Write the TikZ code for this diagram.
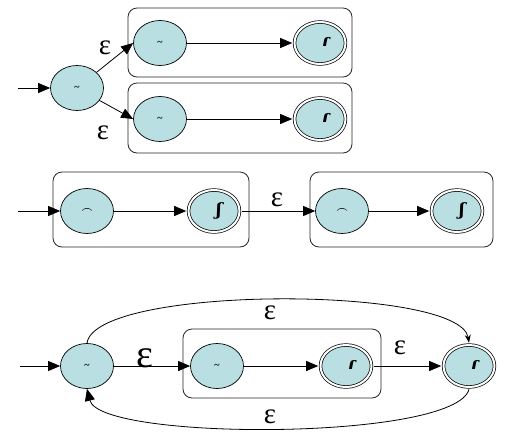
\documentclass[tikz,border=0pt]{standalone}
\usepackage{fontspec}
\setmainfont{Liberation Serif}
\newfontfamily\ipafont{DejaVu Serif}
\usetikzlibrary{arrows.meta,shapes.geometric}
\definecolor{statefill}{RGB}{185,223,227}
\newcommand{\startsym}{{\fontsize{10}{10}\selectfont\bfseries\textasciitilde}}
\newcommand{\capsym}{{\fontsize{10}{10}\selectfont$\boldsymbol{\frown}$}}
\newcommand{\acceptsym}{\hspace*{12pt}\raisebox{3pt}{\ipafont\bfseries\itshape\fontsize{17}{17}\selectfont ɾ}}
\newcommand{\hooksym}{\hspace*{10pt}\raisebox{3pt}{\ipafont\bfseries\itshape\fontsize{17}{17}\selectfont ʃ}}
\usepackage{amsmath}

\begin{document}
\begin{tikzpicture}[x=1pt, y=-1pt,
    stnode/.style={ellipse, draw, fill=statefill, line width=0.7pt, minimum width=53pt, minimum height=45pt, inner sep=0pt},
    acnode/.style={stnode, double, double distance=2pt, minimum width=51pt, minimum height=42pt, outer sep=2.3pt},
    arr/.style={-{Triangle[length=12pt,width=10pt]}, line width=0.8pt},
    loopar/.style={-{Stealth[length=8pt,width=6pt]}, line width=0.8pt},
    grp/.style={draw=black!85, rounded corners=9pt, line width=0.8pt},
    eps/.style={font=\fontsize{29}{29}\selectfont, inner sep=0pt}
]
\useasboundingbox (0,0) rectangle (512,437);

% union
\draw[grp] (128,8) rectangle (352,77);
\draw[grp] (128,83) rectangle (352,153);
\node[stnode] (u0) at (77,88) {\startsym};
\node[stnode] (u1) at (160,43) {\startsym};
\node[acnode] (u2) at (320,43) {\acceptsym};
\node[stnode] (u3) at (160,119) {\startsym};
\node[acnode] (u4) at (320,119) {\acceptsym};
\coordinate (uin) at (18,88);
\draw[arr] (uin) -- (u0);
\draw[arr] (u0) -- (u1.west);
\draw[arr] (u0) -- (u3.west);
\draw[arr] (u1) -- (u2);
\draw[arr] (u3) -- (u4);
\node[eps] (ue1) at (105,48) {ε};
\node[eps] (ue2) at (103,133) {ε};

% concatenation
\draw[grp] (53,172) rectangle (249,247);
\draw[grp] (310,172) rectangle (493,247);
\node[stnode] (c0) at (87,211) {\capsym};
\node[acnode] (c1) at (214,211) {\hooksym};
\node[stnode] (c2) at (342,211) {\capsym};
\node[acnode] (c3) at (457,211) {\hooksym};
\coordinate (cin) at (18,211);
\draw[arr] (cin) -- (c0);
\draw[arr] (c0) -- (c1);
\draw[arr] (c1) -- (c2);
\draw[arr] (c2) -- (c3);
\node[eps] (ce) at (277,200) {ε};

% closure
\draw[grp] (183,329) rectangle (381,398);
\node[stnode] (k0) at (87,366) {\startsym};
\node[stnode] (k1) at (217,366) {\startsym};
\node[acnode] (k2) at (346,366) {\acceptsym};
\node[acnode] (k3) at (469,366) {\acceptsym};
\coordinate (kin) at (20,366);
\draw[arr] (kin) -- (k0);
\draw[arr] (k0) -- (k1);
\draw[arr] (k1) -- (k2);
\draw[arr] (k2) -- (k3);
\draw[loopar] (k0.north) .. controls (95,285) and (460,285) .. (k3.north);
\draw[arr] (k3.south) .. controls (455,441) and (100,441) .. (k0.south);
\node[eps] (ke1) at (145,358) {\fontsize{40}{40}\selectfont ε};
\node[eps] (ke2) at (400,348) {ε};
\node[eps] (ke3) at (270,313) {ε};
\node[eps] (ke4) at (270,417) {ε};
\end{tikzpicture}
\end{document}
